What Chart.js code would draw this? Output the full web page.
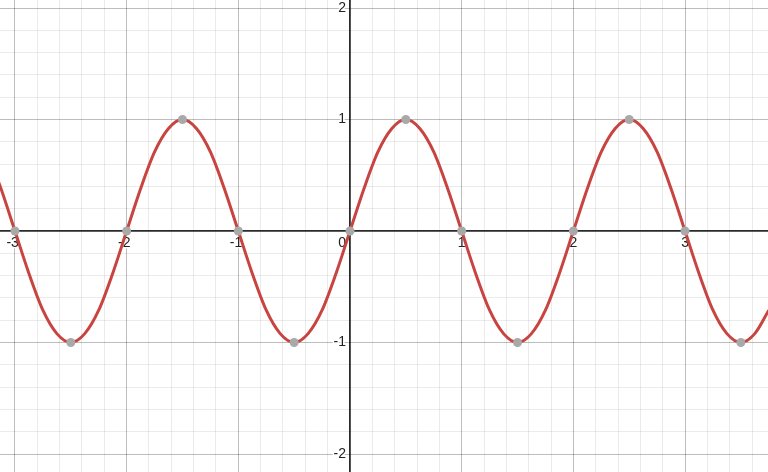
<!DOCTYPE html>
<html>
<head>
<meta charset="utf-8">
<script src="https://cdn.jsdelivr.net/npm/chart.js@4.4.0/dist/chart.umd.min.js"></script>
<style>
  html, body { margin: 0; padding: 0; background: #fff; }
  #wrap { width: 768px; height: 472px; }
</style>
</head>
<body>
<div id="wrap"><canvas id="chart"></canvas></div>
<script>
// curve samples
const curveX = [-3.25,-3.125,-3,-2.875,-2.75,-2.625,-2.5,-2.375,-2.25,-2.125,
  -2,-1.875,-1.75,-1.625,-1.5,-1.375,-1.25,-1.125,-1,-0.875,-0.75,-0.625,-0.5,-0.375,-0.25,-0.125,
  0,0.125,0.25,0.375,0.5,0.625,0.75,0.875,1,1.125,1.25,1.375,1.5,1.625,1.75,1.875,
  2,2.125,2.25,2.375,2.5,2.625,2.75,2.875,3,3.125,3.25,3.375,3.5,3.625,3.75];
const curveY = [0.71,0.38,0,-0.38,-0.71,-0.92,-1,-0.92,-0.71,-0.38,
  0,0.38,0.71,0.92,1,0.92,0.71,0.38,0,-0.38,-0.71,-0.92,-1,-0.92,-0.71,-0.38,
  0,0.38,0.71,0.92,1,0.92,0.71,0.38,0,-0.38,-0.71,-0.92,-1,-0.92,-0.71,-0.38,
  0,0.38,0.71,0.92,1,0.92,0.71,0.38,0,-0.38,-0.71,-0.92,-1,-0.92,-0.71];

// highlighted points (zeros and extremes)
const keyX = [-3,-2.5,-2,-1.5,-1,-0.5,0,0.5,1,1.5,2,2.5,3,3.5];
const keyY = [0,-1,0,1,0,-1,0,1,0,-1,0,1,0,-1];

const xLabels = [-3,-2,-1,0,1,2,3];
const yLabels = [2,1,-1,-2];

const xMin = -3.134, xMax = 3.743;
const yMin = -2.161, yMax = 2.072;

function gridTicks(scale) {
  const t = [];
  const a = Math.ceil(scale.min * 5), b = Math.floor(scale.max * 5);
  for (let i = a; i <= b; i++) t.push({ value: i / 5 });
  scale.ticks = t;
}

function gridColor(ctx) {
  const v = ctx.tick.value;
  if (Math.abs(v) < 1e-9) return '#2a2a2a';
  if (Math.abs(v - Math.round(v)) < 1e-9) return 'rgba(0,0,0,0.26)';
  return 'rgba(0,0,0,0.08)';
}
function gridWidth(ctx) {
  const v = ctx.tick.value;
  if (Math.abs(v) < 1e-9) return 1.8;
  return 1;
}

const labelPlugin = {
  id: 'axisLabels',
  beforeDatasetsDraw(chart) {
    const c = chart.ctx;
    const xs = chart.scales.x, ys = chart.scales.y;
    const x0 = xs.getPixelForValue(0), y0 = ys.getPixelForValue(0);
    c.save();
    c.font = '14px Arial, "Liberation Sans", sans-serif';
    c.fillStyle = '#222';
    c.textBaseline = 'middle';
    c.lineJoin = 'round';
    c.strokeStyle = 'rgba(255,255,255,0.9)';
    c.lineWidth = 3;
    xLabels.forEach(v => {
      const txt = v < 0 ? '-' + Math.abs(v) : String(v);
      const px = xs.getPixelForValue(v);
      if (v === 0) {
        c.textAlign = 'right';
        c.strokeText(txt, x0 - 4, y0 + 12);
        c.fillText(txt, x0 - 4, y0 + 12);
      } else {
        c.textAlign = 'center';
        const w = v < 0 ? c.measureText('-').width / 2 : 0;
        c.strokeText(txt, px - w, y0 + 12);
        c.fillText(txt, px - w, y0 + 12);
      }
    });
    yLabels.forEach(v => {
      const txt = v < 0 ? '-' + Math.abs(v) : String(v);
      const py = ys.getPixelForValue(v);
      c.textAlign = 'right';
      c.strokeText(txt, x0 - 4, py);
      c.fillText(txt, x0 - 4, py);
    });
    c.restore();
  }
};

const ctx = document.getElementById('chart').getContext('2d');
const myChart = new Chart(ctx, {
  type: 'scatter',
  data: {
    datasets: [{
      data: keyX.map((x, i) => ({ x: x, y: keyY[i] })),
      pointRadius: 4.5,
      pointHoverRadius: 4.5,
      pointBackgroundColor: '#a9a9a9',
      pointBorderWidth: 0,
      showLine: false,
      order: 0
    }, {
      data: curveX.map((x, i) => ({ x: x, y: curveY[i] })),
      showLine: true,
      borderColor: '#c74440',
      borderWidth: 3,
      pointRadius: 0,
      cubicInterpolationMode: 'monotone',
      order: 1
    }]
  },
  options: {
    responsive: true,
    maintainAspectRatio: false,
    animation: false,
    layout: { padding: 0, autoPadding: false },
    plugins: { legend: { display: false }, tooltip: { enabled: false } },
    scales: {
      x: {
        type: 'linear', min: xMin, max: xMax,
        afterBuildTicks: gridTicks,
        ticks: { display: false },
        border: { display: false },
        grid: { color: gridColor, lineWidth: gridWidth, drawTicks: false }
      },
      y: {
        type: 'linear', min: yMin, max: yMax,
        afterBuildTicks: gridTicks,
        ticks: { display: false },
        border: { display: false },
        grid: { color: gridColor, lineWidth: gridWidth, drawTicks: false }
      }
    }
  },
  plugins: [labelPlugin]
});
</script>
</body>
</html>
